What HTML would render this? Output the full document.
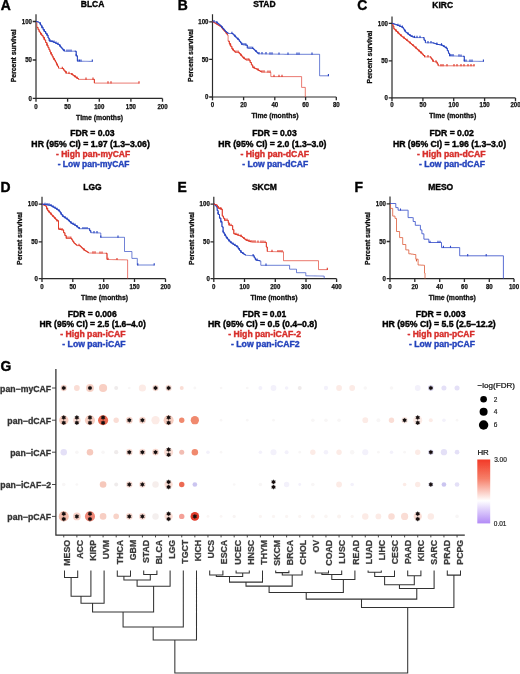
<!DOCTYPE html>
<html lang="en"><head><meta charset="utf-8"><title>Figure</title>
<style>
html,body{margin:0;padding:0;background:#fff}
body{width:520px;height:674px;overflow:hidden}
svg{display:block}
text{font-family:"Liberation Sans",sans-serif}
.pl{font-size:13.9px;font-weight:bold;fill:#000;stroke:#000;stroke-width:.4px}
.ti{font-size:8.5px;font-weight:bold;fill:#000;stroke:#000;stroke-width:.35px}
.tk{font-size:6.6px;font-weight:bold;fill:#111;stroke:#111;stroke-width:.25px}
.al{font-size:6.85px;font-weight:bold;fill:#111;stroke:#111;stroke-width:.3px}
.st{font-size:8.5px;font-weight:bold;stroke-width:.38px}
.rl{font-size:8.72px;font-weight:bold;fill:#333;stroke:#333;stroke-width:.3px}
.cl{font-size:9.3px;font-weight:bold;fill:#3a3a3a;stroke:#3a3a3a;stroke-width:.26px}
.lg{font-size:7.9px;fill:#111;stroke:#111;stroke-width:.22px}
.ls{font-size:6.5px;fill:#1a1a1a;stroke:#1a1a1a;stroke-width:.18px}
</style></head><body>
<svg width="520" height="674" viewBox="0 0 520 674">
<rect width="520" height="674" fill="#fff"/>
<defs><filter id="soft" x="0" y="0" width="520" height="674" filterUnits="userSpaceOnUse"><feGaussianBlur stdDeviation="0.38"/></filter></defs>
<g filter="url(#soft)">
<text x="0.8" y="10.4" class="pl">A</text>
<text x="177.8" y="9.9" class="pl">B</text>
<text x="357.2" y="10.4" class="pl">C</text>
<text x="0.6" y="192.4" class="pl">D</text>
<text x="177.5" y="192.4" class="pl">E</text>
<text x="354.4" y="192.4" class="pl">F</text>
<text x="0.6" y="370.7" class="pl">G</text>
<text x="92.6" y="7.3" text-anchor="middle" class="ti">BLCA</text>
<text x="264.4" y="7.3" text-anchor="middle" class="ti">STAD</text>
<text x="442.7" y="7.7" text-anchor="middle" class="ti">KIRC</text>
<text x="92.4" y="190.4" text-anchor="middle" class="ti">LGG</text>
<text x="264.4" y="190.4" text-anchor="middle" class="ti">SKCM</text>
<text x="440.7" y="190.4" text-anchor="middle" class="ti">MESO</text>
<g id="A">
<path d="M36,14.3V98.4H162.5" fill="none" stroke="#2b2b2b" stroke-width="1.2"/>
<path d="M32.7,21.5H36M32.7,60H36M32.7,98.4H36M36,98.4V101.7M67.6,98.4V101.7M99.3,98.4V101.7M130.9,98.4V101.7M162.5,98.4V101.7" fill="none" stroke="#2b2b2b" stroke-width="1.3"/>
<text x="32.0" y="23.9" text-anchor="end" class="tk" textLength="10.18" lengthAdjust="spacingAndGlyphs">100</text>
<text x="32.0" y="62.4" text-anchor="end" class="tk" textLength="6.78" lengthAdjust="spacingAndGlyphs">50</text>
<text x="32.0" y="100.8" text-anchor="end" class="tk" textLength="3.39" lengthAdjust="spacingAndGlyphs">0</text>
<text x="36" y="108.5" text-anchor="middle" class="tk" textLength="3.39" lengthAdjust="spacingAndGlyphs">0</text>
<text x="67.6" y="108.5" text-anchor="middle" class="tk" textLength="6.78" lengthAdjust="spacingAndGlyphs">50</text>
<text x="99.3" y="108.5" text-anchor="middle" class="tk" textLength="10.18" lengthAdjust="spacingAndGlyphs">100</text>
<text x="130.9" y="108.5" text-anchor="middle" class="tk" textLength="10.18" lengthAdjust="spacingAndGlyphs">150</text>
<text x="162.5" y="108.5" text-anchor="middle" class="tk" textLength="10.18" lengthAdjust="spacingAndGlyphs">200</text>
<text transform="translate(15.9,55.8) rotate(-90)" text-anchor="middle" class="al">Percent survival</text>
<text x="99.6" y="119.8" text-anchor="middle" class="al">Time (months)</text>
<path d="M36.00,21.50H36.90V27.40H38.05V29.70H39.20V32.00H40.50V33.80H41.80V35.60H43.10V37.40H44.37V39.97H45.63V42.53H46.90V45.10H47.93V47.40H48.97V49.70H50.00V52.00H51.03V54.07H52.07V56.13H53.10V58.20H54.25V60.10H55.40V62.00H56.43V64.07H57.47V66.13H58.50V68.20H59.77V68.33H61.03V68.47H62.30V68.60H63.60V70.13H64.90V71.67H66.20V73.20H67.35V73.35H68.50V73.50H69.65V73.65H70.80V73.80H72.07V74.73H73.33V75.67H74.60V76.60H75.90V77.53H77.20V78.47H78.50V79.40H93.40H94.40V83.10H139.40" fill="none" stroke="#DE3525" stroke-width="0.65"/>
<path d="M36.90,27.40H38.05V29.70H39.20V32.00M39.20,32.00H40.50V33.80H41.80V35.60H43.10V37.40M43.10,37.40H44.37V39.97H45.63V42.53H46.90V45.10M46.90,45.10H47.93V47.40H48.97V49.70H50.00V52.00M50.00,52.00H51.03V54.07H52.07V56.13H53.10V58.20M53.10,58.20H54.25V60.10H55.40V62.00M55.40,62.00H56.43V64.07H57.47V66.13H58.50V68.20M62.30,68.60H63.60V70.13H64.90V71.67H66.20V73.20M70.80,73.80H72.07V74.73H73.33V75.67H74.60V76.60M74.60,76.60H75.90V77.53H77.20V78.47H78.50V79.40M93.40,79.40H94.40V83.10" fill="none" stroke="#DE3525" stroke-width="0.90"/>
<path d="M41.0,32.7v2.2M44.0,37.4v2.2M47.0,43.5v2.2M51.0,52.2v2.2M54.0,57.9v2.2M57.0,63.4v2.2M62.3,66.8v2.2M66.0,71.2v2.2M69.0,71.8v2.2M72.0,72.9v2.2M75.0,75.1v2.2M77.0,76.5v2.2M86.0,77.6v2.2M93.0,77.6v2.2M108.0,81.3v2.2M111.0,81.3v2.2M139.0,81.3v2.2" fill="none" stroke="#DE3525" stroke-width="1.1"/>
<path d="M36.00,21.50H37.30V21.90H38.60V22.30H39.20V22.80H40.50V25.10H41.80V27.40H43.10V29.70H44.37V31.50H45.63V33.30H46.90V35.10H48.05V38.00H49.20V40.90H50.50V41.27H51.80V41.63H53.10V42.00H54.18V42.52H55.26V43.04H56.34V43.56H57.42V44.08H58.50V44.60H59.65V46.00H60.80V47.40H61.95V48.80H63.10V50.20H64.50V51.20H74.60H76.20V55.80H77.40V61.20H78.55V61.22H79.69V61.23H80.84V61.25H81.98V61.26H83.13V61.28H84.28V61.29H85.42V61.31H86.57V61.32H87.72V61.34H88.86V61.35H90.01V61.37H91.15V61.38H92.30V61.40" fill="none" stroke="#2340C0" stroke-width="0.65"/>
<path d="M36.00,21.50H37.30V21.90H38.60V22.30M39.20,22.80H40.50V25.10H41.80V27.40H43.10V29.70M43.10,29.70H44.37V31.50H45.63V33.30H46.90V35.10M46.90,35.10H48.05V38.00H49.20V40.90M49.20,40.90H50.50V41.27H51.80V41.63H53.10V42.00M53.10,42.00H54.18V42.52H55.26V43.04H56.34V43.56H57.42V44.08H58.50V44.60M58.50,44.60H59.65V46.00H60.80V47.40H61.95V48.80H63.10V50.20M63.10,50.20H64.50V51.20M74.60,51.20H76.20V55.80M76.20,55.80H77.40V61.20" fill="none" stroke="#2340C0" stroke-width="0.90"/>
<path d="M40.0,22.4v2.2M42.0,26.0v2.2M44.0,29.2v2.2M45.5,31.3v2.2M47.0,33.6v2.2M50.0,39.3v2.2M52.0,39.9v2.2M54.0,40.6v2.2M56.0,41.6v2.2M58.0,42.6v2.2M60.0,44.6v2.2M64.0,49.0v2.2M67.0,49.4v2.2M69.0,49.4v2.2M71.0,49.4v2.2M76.2,54.0v2.2M78.0,59.4v2.2M79.5,59.4v2.2M81.0,59.4v2.2M92.3,59.6v2.2" fill="none" stroke="#2340C0" stroke-width="1.1"/>
</g>
<text x="92.4" y="136.3" text-anchor="middle" class="st" fill="#000" stroke="#000" textLength="44.4" lengthAdjust="spacingAndGlyphs">FDR = 0.03</text>
<text x="90.6" y="146.5" text-anchor="middle" class="st" fill="#000" stroke="#000" textLength="118.5" lengthAdjust="spacingAndGlyphs">HR (95% CI) = 1.97 (1.3–3.06)</text>
<text x="93.1" y="156.6" text-anchor="middle" class="st" fill="#D72E2A" stroke="#D72E2A" textLength="74.1" lengthAdjust="spacingAndGlyphs">- High pan-myCAF</text>
<text x="93.6" y="166.5" text-anchor="middle" class="st" fill="#2443BC" stroke="#2443BC" textLength="71.9" lengthAdjust="spacingAndGlyphs">- Low pan-myCAF</text>
<g id="B">
<path d="M212.5,14.3V97H336.3" fill="none" stroke="#2b2b2b" stroke-width="1.2"/>
<path d="M209.2,21.8H212.5M209.2,59.4H212.5M209.2,97H212.5M212.5,97V100.3M243.6,97V100.3M274.8,97V100.3M305.6,97V100.3M336.3,97V100.3" fill="none" stroke="#2b2b2b" stroke-width="1.3"/>
<text x="208.5" y="24.2" text-anchor="end" class="tk" textLength="10.18" lengthAdjust="spacingAndGlyphs">100</text>
<text x="208.5" y="61.8" text-anchor="end" class="tk" textLength="6.78" lengthAdjust="spacingAndGlyphs">50</text>
<text x="208.5" y="99.3" text-anchor="end" class="tk" textLength="3.39" lengthAdjust="spacingAndGlyphs">0</text>
<text x="212.5" y="107.3" text-anchor="middle" class="tk" textLength="3.39" lengthAdjust="spacingAndGlyphs">0</text>
<text x="243.6" y="107.3" text-anchor="middle" class="tk" textLength="6.78" lengthAdjust="spacingAndGlyphs">20</text>
<text x="274.8" y="107.3" text-anchor="middle" class="tk" textLength="6.78" lengthAdjust="spacingAndGlyphs">40</text>
<text x="305.6" y="107.3" text-anchor="middle" class="tk" textLength="6.78" lengthAdjust="spacingAndGlyphs">60</text>
<text x="336.3" y="107.3" text-anchor="middle" class="tk" textLength="6.78" lengthAdjust="spacingAndGlyphs">80</text>
<text transform="translate(193.4,55.5) rotate(-90)" text-anchor="middle" class="al">Percent survival</text>
<text x="275" y="118.2" text-anchor="middle" class="al">Time (months)</text>
<path d="M212.50,21.80H213.63V22.49H214.76V23.17H215.89V23.86H217.01V24.54H218.14V25.23H219.27V25.91H220.40V26.60H221.55V27.95H222.70V29.30H223.85V30.65H225.00V32.00H226.15V33.55H227.30V35.10H228.10V41.20H229.37V43.77H230.63V46.33H231.90V48.90H232.93V50.03H233.97V51.17H235.00V52.30H238.10H239.25V53.57H240.40V54.85H241.55V56.12H242.70V57.40H243.73V58.27H244.77V59.13H245.80V60.00H248.80H250.10V62.47H251.40V64.93H252.70V67.40H253.97V68.00H255.23V68.60H256.50V69.20H257.68V69.90H258.85V70.60H260.02V71.30H261.20V72.00H262.35V72.04H263.50V72.08H264.65V72.11H265.80V72.15H266.95V72.19H268.10V72.22H269.25V72.26H270.40V72.30H270.80V76.60H301.60V87.40H305.30V97.00" fill="none" stroke="#DE3525" stroke-width="0.65"/>
<path d="M212.50,21.80H213.63V22.49H214.76V23.17H215.89V23.86H217.01V24.54H218.14V25.23H219.27V25.91H220.40V26.60M220.40,26.60H221.55V27.95H222.70V29.30H223.85V30.65H225.00V32.00M225.00,32.00H226.15V33.55H227.30V35.10M228.10,41.20H229.37V43.77H230.63V46.33H231.90V48.90M231.90,48.90H232.93V50.03H233.97V51.17H235.00V52.30M238.10,52.30H239.25V53.57H240.40V54.85H241.55V56.12H242.70V57.40M242.70,57.40H243.73V58.27H244.77V59.13H245.80V60.00M248.80,60.00H250.10V62.47H251.40V64.93H252.70V67.40M252.70,67.40H253.97V68.00H255.23V68.60H256.50V69.20M256.50,69.20H257.68V69.90H258.85V70.60H260.02V71.30H261.20V72.00" fill="none" stroke="#DE3525" stroke-width="0.90"/>
<path d="M230.0,43.2v2.2M233.0,48.3v2.2M236.0,50.5v2.2M238.0,50.5v2.2M241.0,53.7v2.2M244.0,56.7v2.2M247.0,58.2v2.2M248.8,58.2v2.2M254.0,66.2v2.2M258.0,68.3v2.2M262.0,70.2v2.2M264.0,70.3v2.2M268.0,70.4v2.2M270.0,70.5v2.2M274.0,74.8v2.2M279.0,74.8v2.2M282.0,74.8v2.2" fill="none" stroke="#DE3525" stroke-width="1.1"/>
<path d="M212.50,21.80H213.60V21.87H214.70V21.93H215.80V22.00H216.95V22.95H218.10V23.90H219.25V24.85H220.40V25.80H221.55V27.15H222.70V28.50H223.85V29.85H225.00V31.20H226.03V31.97H227.07V32.73H228.10V33.50H231.90H233.14V34.74H234.38V35.98H235.62V37.22H236.86V38.46H238.10V39.70H239.37V41.33H240.63V42.97H241.90V44.60H243.20V44.77H244.50V44.93H245.80V45.10H247.30V48.20H248.38V48.26H249.46V48.32H250.54V48.38H251.62V48.44H252.70V48.50H253.78V49.56H254.86V50.62H255.94V51.68H257.02V52.74H258.10V53.80H259.27V53.82H260.44V53.84H261.61V53.87H262.78V53.89H263.95V53.91H265.12V53.93H266.29V53.95H267.46V53.97H268.63V54.00H269.80V54.02H270.97V54.04H272.13V54.06H273.30V54.08H274.47V54.10H275.64V54.13H276.81V54.15H277.98V54.17H279.15V54.19H280.32V54.21H281.49V54.23H282.66V54.26H283.83V54.28H285.00V54.30H319.60V75.80H328.40" fill="none" stroke="#2340C0" stroke-width="0.65"/>
<path d="M215.80,22.00H216.95V22.95H218.10V23.90H219.25V24.85H220.40V25.80M220.40,25.80H221.55V27.15H222.70V28.50H223.85V29.85H225.00V31.20M225.00,31.20H226.03V31.97H227.07V32.73H228.10V33.50M231.90,33.50H233.14V34.74H234.38V35.98H235.62V37.22H236.86V38.46H238.10V39.70M238.10,39.70H239.37V41.33H240.63V42.97H241.90V44.60M245.80,45.10H247.30V48.20M252.70,48.50H253.78V49.56H254.86V50.62H255.94V51.68H257.02V52.74H258.10V53.80" fill="none" stroke="#2340C0" stroke-width="0.90"/>
<path d="M214.0,20.1v2.2M217.0,21.2v2.2M222.0,25.9v2.2M231.9,31.7v2.2M235.0,34.8v2.2M238.0,37.8v2.2M241.9,42.8v2.2M244.0,43.1v2.2M245.8,43.3v2.2M249.0,46.5v2.2M251.0,46.6v2.2M252.7,46.7v2.2M256.0,49.9v2.2M259.0,52.0v2.2M262.0,52.1v2.2M266.0,52.1v2.2M270.0,52.2v2.2M272.0,52.3v2.2M279.0,52.4v2.2M288.0,52.5v2.2M297.0,52.5v2.2M299.0,52.5v2.2M312.0,52.5v2.2M328.4,74.0v2.2" fill="none" stroke="#2340C0" stroke-width="1.1"/>
</g>
<text x="274.5" y="136.3" text-anchor="middle" class="st" fill="#000" stroke="#000" textLength="44.4" lengthAdjust="spacingAndGlyphs">FDR = 0.03</text>
<text x="272.4" y="146.5" text-anchor="middle" class="st" fill="#000" stroke="#000" textLength="108.2" lengthAdjust="spacingAndGlyphs">HR (95% CI) = 2.0 (1.3–3.0)</text>
<text x="274.7" y="156.6" text-anchor="middle" class="st" fill="#D72E2A" stroke="#D72E2A" textLength="68.6" lengthAdjust="spacingAndGlyphs">- High pan-dCAF</text>
<text x="275.2" y="166.5" text-anchor="middle" class="st" fill="#2443BC" stroke="#2443BC" textLength="65.9" lengthAdjust="spacingAndGlyphs">- Low pan-dCAF</text>
<g id="C">
<path d="M392,16.6V97.9H515.5" fill="none" stroke="#2b2b2b" stroke-width="1.2"/>
<path d="M388.7,23.4H392M388.7,60.8H392M388.7,97.9H392M392,97.9V101.2M422.9,97.9V101.2M453.7,97.9V101.2M484.6,97.9V101.2M515.5,97.9V101.2" fill="none" stroke="#2b2b2b" stroke-width="1.3"/>
<text x="388.0" y="25.8" text-anchor="end" class="tk" textLength="10.18" lengthAdjust="spacingAndGlyphs">100</text>
<text x="388.0" y="63.1" text-anchor="end" class="tk" textLength="6.78" lengthAdjust="spacingAndGlyphs">50</text>
<text x="388.0" y="100.2" text-anchor="end" class="tk" textLength="3.39" lengthAdjust="spacingAndGlyphs">0</text>
<text x="392" y="107.3" text-anchor="middle" class="tk" textLength="3.39" lengthAdjust="spacingAndGlyphs">0</text>
<text x="422.9" y="107.3" text-anchor="middle" class="tk" textLength="6.78" lengthAdjust="spacingAndGlyphs">50</text>
<text x="453.7" y="107.3" text-anchor="middle" class="tk" textLength="10.18" lengthAdjust="spacingAndGlyphs">100</text>
<text x="484.6" y="107.3" text-anchor="middle" class="tk" textLength="10.18" lengthAdjust="spacingAndGlyphs">150</text>
<text x="515.5" y="107.3" text-anchor="middle" class="tk" textLength="10.18" lengthAdjust="spacingAndGlyphs">200</text>
<text transform="translate(371.9,57) rotate(-90)" text-anchor="middle" class="al">Percent survival</text>
<text x="452.7" y="118.2" text-anchor="middle" class="al">Time (months)</text>
<path d="M392.00,23.40H392.90V26.15H393.80V28.90H395.04V30.14H396.28V31.38H397.52V32.62H398.76V33.86H400.00V35.10H401.10V35.97H402.20V36.84H403.30V37.71H404.40V38.59H405.50V39.46H406.60V40.33H407.70V41.20H408.78V42.12H409.86V43.04H410.94V43.96H412.02V44.88H413.10V45.80H414.20V46.80H415.30V47.80H416.40V48.80H417.50V49.80H418.60V50.80H419.70V51.80H420.80V52.80H422.07V54.17H423.33V55.53H424.60V56.90H430.00H431.03V58.43H432.07V59.97H433.10V61.50H434.13V61.67H435.17V61.83H436.20V62.00H437.20V63.90H438.20V65.80H474.60" fill="none" stroke="#DE3525" stroke-width="0.65"/>
<path d="M392.00,23.40H392.90V26.15H393.80V28.90M393.80,28.90H395.04V30.14H396.28V31.38H397.52V32.62H398.76V33.86H400.00V35.10M400.00,35.10H401.10V35.97H402.20V36.84H403.30V37.71H404.40V38.59H405.50V39.46H406.60V40.33H407.70V41.20M407.70,41.20H408.78V42.12H409.86V43.04H410.94V43.96H412.02V44.88H413.10V45.80M413.10,45.80H414.20V46.80H415.30V47.80H416.40V48.80H417.50V49.80H418.60V50.80H419.70V51.80H420.80V52.80M420.80,52.80H422.07V54.17H423.33V55.53H424.60V56.90M430.00,56.90H431.03V58.43H432.07V59.97H433.10V61.50M436.20,62.00H437.20V63.90H438.20V65.80" fill="none" stroke="#DE3525" stroke-width="0.90"/>
<path d="M396.0,29.3v2.2M398.0,31.3v2.2M401.0,34.1v2.2M404.0,36.5v2.2M407.0,38.8v2.2M410.0,41.4v2.2M413.0,43.9v2.2M416.0,46.6v2.2M419.0,49.4v2.2M421.0,51.2v2.2M424.6,55.1v2.2M428.0,55.1v2.2M433.0,59.6v2.2M436.0,60.2v2.2M441.0,64.0v2.2M443.0,64.0v2.2M447.0,64.0v2.2M454.0,64.0v2.2M457.0,64.0v2.2M461.0,64.0v2.2M464.0,64.0v2.2M468.0,64.0v2.2M471.0,64.0v2.2M474.0,64.0v2.2" fill="none" stroke="#DE3525" stroke-width="1.1"/>
<path d="M392.00,23.40H393.23V23.82H394.45V24.25H395.67V24.68H396.90V25.10H397.98V25.56H399.06V26.02H400.14V26.48H401.22V26.94H402.30V27.40H403.33V28.93H404.37V30.47H405.40V32.00H406.48V32.86H407.56V33.72H408.64V34.58H409.72V35.44H410.80V36.30H412.07V36.73H413.33V37.17H414.60V37.60H422.80H424.10V40.20H425.40V42.80H432.30H433.45V43.17H434.60V43.55H435.75V43.92H436.90V44.30H438.05V44.50H439.20V44.70H440.35V44.90H441.50V45.10H442.68V45.88H443.85V46.65H445.02V47.43H446.20V48.20H447.33V50.73H448.47V53.27H449.60V55.80H450.73V55.84H451.85V55.88H452.98V55.92H454.10V55.97H455.23V56.01H456.35V56.05H457.48V56.09H458.60V56.13H459.73V56.17H460.85V56.22H461.98V56.26H463.10V56.30H464.30V61.20H465.42V61.21H466.55V61.22H467.67V61.24H468.79V61.25H469.92V61.26H471.04V61.27H472.16V61.28H473.29V61.29H474.41V61.31H475.54V61.32H476.66V61.33H477.78V61.34H478.91V61.35H480.03V61.36H481.15V61.38H482.28V61.39H483.40V61.40" fill="none" stroke="#2340C0" stroke-width="0.65"/>
<path d="M392.00,23.40H393.23V23.82H394.45V24.25H395.67V24.68H396.90V25.10M396.90,25.10H397.98V25.56H399.06V26.02H400.14V26.48H401.22V26.94H402.30V27.40M402.30,27.40H403.33V28.93H404.37V30.47H405.40V32.00M405.40,32.00H406.48V32.86H407.56V33.72H408.64V34.58H409.72V35.44H410.80V36.30M410.80,36.30H412.07V36.73H413.33V37.17H414.60V37.60M422.80,37.60H424.10V40.20H425.40V42.80M432.30,42.80H433.45V43.17H434.60V43.55H435.75V43.92H436.90V44.30M436.90,44.30H438.05V44.50H439.20V44.70H440.35V44.90H441.50V45.10M441.50,45.10H442.68V45.88H443.85V46.65H445.02V47.43H446.20V48.20M446.20,48.20H447.33V50.73H448.47V53.27H449.60V55.80M463.10,56.30H464.30V61.20" fill="none" stroke="#2340C0" stroke-width="0.90"/>
<path d="M398.0,23.8v2.2M400.0,24.6v2.2M402.3,25.6v2.2M405.0,29.6v2.2M408.0,32.3v2.2M410.0,33.9v2.2M412.0,34.9v2.2M414.6,35.8v2.2M417.0,35.8v2.2M420.0,35.8v2.2M428.0,41.0v2.2M431.0,41.0v2.2M436.9,42.5v2.2M441.5,43.3v2.2M444.0,44.9v2.2M446.2,46.4v2.2M449.6,54.0v2.2M451.0,54.1v2.2M453.0,54.1v2.2M459.0,54.3v2.2M461.0,54.4v2.2M464.3,59.4v2.2M466.0,59.4v2.2M470.0,59.5v2.2M472.0,59.5v2.2M483.4,59.6v2.2" fill="none" stroke="#2340C0" stroke-width="1.1"/>
</g>
<text x="451.7" y="136.3" text-anchor="middle" class="st" fill="#000" stroke="#000" textLength="44.4" lengthAdjust="spacingAndGlyphs">FDR = 0.02</text>
<text x="449.5" y="146.5" text-anchor="middle" class="st" fill="#000" stroke="#000" textLength="113.2" lengthAdjust="spacingAndGlyphs">HR (95% CI) = 1.96 (1.3–3.0)</text>
<text x="451.3" y="156.6" text-anchor="middle" class="st" fill="#D72E2A" stroke="#D72E2A" textLength="68.6" lengthAdjust="spacingAndGlyphs">- High pan-dCAF</text>
<text x="452" y="166.5" text-anchor="middle" class="st" fill="#2443BC" stroke="#2443BC" textLength="65.9" lengthAdjust="spacingAndGlyphs">- Low pan-dCAF</text>
<g id="D">
<path d="M42,196.8V278.7H165.5" fill="none" stroke="#2b2b2b" stroke-width="1.2"/>
<path d="M38.7,204.1H42M38.7,241.8H42M38.7,278.7H42M42,278.7V282.0M72.8,278.7V282.0M103.7,278.7V282.0M134.5,278.7V282.0M165.5,278.7V282.0" fill="none" stroke="#2b2b2b" stroke-width="1.3"/>
<text x="38.0" y="206.4" text-anchor="end" class="tk" textLength="10.18" lengthAdjust="spacingAndGlyphs">100</text>
<text x="38.0" y="244.2" text-anchor="end" class="tk" textLength="6.78" lengthAdjust="spacingAndGlyphs">50</text>
<text x="38.0" y="281.1" text-anchor="end" class="tk" textLength="3.39" lengthAdjust="spacingAndGlyphs">0</text>
<text x="42" y="288.5" text-anchor="middle" class="tk" textLength="3.39" lengthAdjust="spacingAndGlyphs">0</text>
<text x="72.8" y="288.5" text-anchor="middle" class="tk" textLength="6.78" lengthAdjust="spacingAndGlyphs">50</text>
<text x="103.7" y="288.5" text-anchor="middle" class="tk" textLength="10.18" lengthAdjust="spacingAndGlyphs">100</text>
<text x="134.5" y="288.5" text-anchor="middle" class="tk" textLength="10.18" lengthAdjust="spacingAndGlyphs">150</text>
<text x="165.5" y="288.5" text-anchor="middle" class="tk" textLength="10.18" lengthAdjust="spacingAndGlyphs">200</text>
<text transform="translate(22.4,238.5) rotate(-90)" text-anchor="middle" class="al">Percent survival</text>
<text x="104.6" y="300.1" text-anchor="middle" class="al">Time (months)</text>
<path d="M42.00,204.10H43.13V204.77H44.27V205.43H45.40V206.10H46.55V208.40H47.70V210.70H48.78V211.92H49.86V213.14H50.94V214.36H52.02V215.58H53.10V216.80H54.37V218.10H55.63V219.40H56.90V220.70H58.50V229.20H59.77V229.43H61.03V229.67H62.30V229.90H63.60V232.73H64.90V235.57H66.20V238.40H70.80H71.80V239.93H72.80V241.47H73.80V243.00H74.83V243.87H75.87V244.73H76.90V245.60H79.20H80.35V246.68H81.50V247.75H82.65V248.82H83.80V249.90H84.97V250.68H86.15V251.45H87.33V252.22H88.50V253.00H89.65V253.02H90.81V253.04H91.96V253.06H93.11V253.08H94.27V253.10H95.42V253.12H96.57V253.14H97.73V253.16H98.88V253.18H100.03V253.20H101.19V253.22H102.34V253.24H103.49V253.26H104.65V253.28H105.80V253.30H107.00V259.50H108.14V259.52H109.29V259.54H110.43V259.57H111.58V259.59H112.72V259.61H113.87V259.63H115.01V259.66H116.16V259.68H117.30V259.70H118.44V259.72H119.59V259.74H120.73V259.77H121.88V259.79H123.02V259.81H124.17V259.83H125.31V259.86H126.46V259.88H127.60V259.90V278.70" fill="none" stroke="#DE3525" stroke-width="0.65"/>
<path d="M42.00,204.10H43.13V204.77H44.27V205.43H45.40V206.10M45.40,206.10H46.55V208.40H47.70V210.70M47.70,210.70H48.78V211.92H49.86V213.14H50.94V214.36H52.02V215.58H53.10V216.80M53.10,216.80H54.37V218.10H55.63V219.40H56.90V220.70M56.90,220.70H58.50V229.20M58.50,229.20H59.77V229.43H61.03V229.67H62.30V229.90M62.30,229.90H63.60V232.73H64.90V235.57H66.20V238.40M70.80,238.40H71.80V239.93H72.80V241.47H73.80V243.00M73.80,243.00H74.83V243.87H75.87V244.73H76.90V245.60M79.20,245.60H80.35V246.68H81.50V247.75H82.65V248.82H83.80V249.90M83.80,249.90H84.97V250.68H86.15V251.45H87.33V252.22H88.50V253.00M105.80,253.30H107.00V259.50" fill="none" stroke="#DE3525" stroke-width="0.90"/>
<path d="M47.0,207.5v2.2M49.0,210.4v2.2M51.0,212.6v2.2M53.0,214.9v2.2M55.0,216.9v2.2M57.0,219.4v2.2M60.0,227.7v2.2M62.0,228.0v2.2M67.0,236.6v2.2M69.0,236.6v2.2M70.8,236.6v2.2M79.0,243.8v2.2M84.0,248.2v2.2M93.0,251.3v2.2M95.0,251.3v2.2M100.0,251.4v2.2M102.0,251.4v2.2M108.0,257.7v2.2M117.0,257.9v2.2" fill="none" stroke="#DE3525" stroke-width="1.1"/>
<path d="M42.00,204.10H43.14V204.27H44.29V204.44H45.43V204.61H46.57V204.79H47.71V204.96H48.86V205.13H50.00V205.30H51.08V205.92H52.16V206.54H53.24V207.16H54.32V207.78H55.40V208.40H56.67V209.33H57.93V210.27H59.20V211.20H60.23V212.83H61.27V214.47H62.30V216.10H63.45V216.88H64.60V217.65H65.75V218.42H66.90V219.20H68.20V220.47H69.50V221.73H70.80V223.00H71.95V223.65H73.10V224.30H74.25V224.95H75.40V225.60H76.67V226.63H77.93V227.67H79.20V228.70H88.50H89.65V230.70H90.80V232.70H92.00V232.74H93.20V232.77H94.40V232.81H95.60V232.85H96.80V232.89H98.00V232.93H99.20V232.96H100.40V233.00H100.80V237.30H124.50V251.50H131.90V258.40H136.80H137.30V265.00H154.20" fill="none" stroke="#2340C0" stroke-width="0.65"/>
<path d="M42.00,204.10H43.14V204.27H44.29V204.44H45.43V204.61H46.57V204.79H47.71V204.96H48.86V205.13H50.00V205.30M50.00,205.30H51.08V205.92H52.16V206.54H53.24V207.16H54.32V207.78H55.40V208.40M55.40,208.40H56.67V209.33H57.93V210.27H59.20V211.20M59.20,211.20H60.23V212.83H61.27V214.47H62.30V216.10M62.30,216.10H63.45V216.88H64.60V217.65H65.75V218.42H66.90V219.20M66.90,219.20H68.20V220.47H69.50V221.73H70.80V223.00M70.80,223.00H71.95V223.65H73.10V224.30H74.25V224.95H75.40V225.60M75.40,225.60H76.67V226.63H77.93V227.67H79.20V228.70M88.50,228.70H89.65V230.70H90.80V232.70" fill="none" stroke="#2340C0" stroke-width="0.90"/>
<path d="M45.0,202.8v2.2M47.0,203.0v2.2M49.0,203.3v2.2M51.0,204.1v2.2M53.0,205.2v2.2M55.0,206.4v2.2M57.0,207.8v2.2M59.0,209.3v2.2M61.0,212.2v2.2M63.0,214.8v2.2M65.0,216.1v2.2M67.0,217.5v2.2M69.0,219.4v2.2M71.0,221.3v2.2M73.0,222.4v2.2M75.0,223.6v2.2M77.0,225.1v2.2M79.2,226.9v2.2M83.0,226.9v2.2M85.0,226.9v2.2M87.0,226.9v2.2M94.0,231.0v2.2M97.0,231.1v2.2M100.8,235.5v2.2M118.0,235.5v2.2M137.8,263.2v2.2M154.2,263.2v2.2" fill="none" stroke="#2340C0" stroke-width="1.1"/>
</g>
<text x="92.2" y="317.3" text-anchor="middle" class="st" fill="#000" stroke="#000" textLength="49" lengthAdjust="spacingAndGlyphs">FDR = 0.006</text>
<text x="92.6" y="327.1" text-anchor="middle" class="st" fill="#000" stroke="#000" textLength="106.4" lengthAdjust="spacingAndGlyphs">HR (95% CI) = 2.5 (1.6–4.0)</text>
<text x="92.9" y="337.2" text-anchor="middle" class="st" fill="#D72E2A" stroke="#D72E2A" textLength="65.4" lengthAdjust="spacingAndGlyphs">- High pan-iCAF</text>
<text x="94" y="347.1" text-anchor="middle" class="st" fill="#2443BC" stroke="#2443BC" textLength="63.3" lengthAdjust="spacingAndGlyphs">- Low pan-iCAF</text>
<g id="E">
<path d="M213.8,196.8V278.7H336.6" fill="none" stroke="#2b2b2b" stroke-width="1.2"/>
<path d="M210.5,204.1H213.8M210.5,241.8H213.8M210.5,278.7H213.8M213.8,278.7V282.0M244.5,278.7V282.0M275.3,278.7V282.0M306,278.7V282.0M336.6,278.7V282.0" fill="none" stroke="#2b2b2b" stroke-width="1.3"/>
<text x="209.8" y="206.4" text-anchor="end" class="tk" textLength="10.18" lengthAdjust="spacingAndGlyphs">100</text>
<text x="209.8" y="244.2" text-anchor="end" class="tk" textLength="6.78" lengthAdjust="spacingAndGlyphs">50</text>
<text x="209.8" y="281.1" text-anchor="end" class="tk" textLength="3.39" lengthAdjust="spacingAndGlyphs">0</text>
<text x="213.8" y="288.5" text-anchor="middle" class="tk" textLength="3.39" lengthAdjust="spacingAndGlyphs">0</text>
<text x="244.5" y="288.5" text-anchor="middle" class="tk" textLength="10.18" lengthAdjust="spacingAndGlyphs">100</text>
<text x="275.3" y="288.5" text-anchor="middle" class="tk" textLength="10.18" lengthAdjust="spacingAndGlyphs">200</text>
<text x="306" y="288.5" text-anchor="middle" class="tk" textLength="10.18" lengthAdjust="spacingAndGlyphs">300</text>
<text x="336.6" y="288.5" text-anchor="middle" class="tk" textLength="10.18" lengthAdjust="spacingAndGlyphs">400</text>
<text transform="translate(193.7,238.5) rotate(-90)" text-anchor="middle" class="al">Percent survival</text>
<text x="274" y="300.1" text-anchor="middle" class="al">Time (months)</text>
<path d="M213.80,204.10H215.00V205.45H216.20V206.80H217.20V210.65H218.20V214.50H219.50V218.00H220.80V221.50H221.95V226.85H223.10V232.20H224.13V234.00H225.17V235.80H226.20V237.60H227.47V239.13H228.73V240.67H230.00V242.20H231.15V242.97H232.30V243.73H233.45V244.50H234.60V245.27H235.75V246.03H236.90V246.80H238.20V248.60H239.50V250.40H240.80V252.20H241.95V252.97H243.10V253.75H244.25V254.53H245.40V255.30H246.50V255.37H247.60V255.44H248.70V255.51H249.80V255.59H250.90V255.66H252.00V255.73H253.10V255.80H254.25V257.85H255.40V259.90H256.55V260.17H257.70V260.45H258.85V260.73H260.00V261.00H260.80V265.30H289.30H289.60V269.20H296.50V272.70H305.30H305.80V275.80H306.95V275.82H308.10V275.84H309.25V275.86H310.40V275.88H311.55V275.89H312.70V275.91H313.85V275.93H315.00V275.95H316.15V275.97H317.30V275.99H318.45V276.01H319.60V276.03H320.75V276.04H321.90V276.06H323.05V276.08H324.20V276.10V278.70" fill="none" stroke="#2340C0" stroke-width="0.65"/>
<path d="M213.80,204.10H215.00V205.45H216.20V206.80M216.20,206.80H217.20V210.65H218.20V214.50M218.20,214.50H219.50V218.00H220.80V221.50M220.80,221.50H221.95V226.85H223.10V232.20M223.10,232.20H224.13V234.00H225.17V235.80H226.20V237.60M226.20,237.60H227.47V239.13H228.73V240.67H230.00V242.20M230.00,242.20H231.15V242.97H232.30V243.73H233.45V244.50H234.60V245.27H235.75V246.03H236.90V246.80M236.90,246.80H238.20V248.60H239.50V250.40H240.80V252.20M240.80,252.20H241.95V252.97H243.10V253.75H244.25V254.53H245.40V255.30M253.10,255.80H254.25V257.85H255.40V259.90M255.40,259.90H256.55V260.17H257.70V260.45H258.85V260.73H260.00V261.00" fill="none" stroke="#2340C0" stroke-width="0.90"/>
<path d="M218.0,211.9v2.2M219.5,216.2v2.2M221.0,220.6v2.2M223.1,230.4v2.2M225.0,233.7v2.2M227.0,236.8v2.2M229.0,239.2v2.2M231.0,241.1v2.2M233.0,242.4v2.2M235.0,243.7v2.2M237.0,245.1v2.2M239.0,247.9v2.2M241.0,250.5v2.2M243.0,251.9v2.2M253.1,254.0v2.2M257.0,258.5v2.2M266.0,263.5v2.2" fill="none" stroke="#2340C0" stroke-width="1.1"/>
<path d="M213.80,204.10H215.00V204.55H216.20V205.00H217.35V206.70H218.50V208.40H219.85V208.80H221.20V209.20H222.30V216.10H223.45V218.25H224.60V220.40H227.40H228.30V222.85H229.20V225.30H230.35V225.45H231.50V225.60H232.65V229.70H233.80V233.80H234.97V234.18H236.13V234.57H237.30V234.95H238.47V235.33H239.63V235.72H240.80V236.10H241.95V237.05H243.10V238.00H244.25V238.95H245.40V239.90H246.48V240.30H247.56V240.70H248.64V241.10H249.72V241.50H250.80V241.90H251.92V241.95H253.05V241.99H254.17V242.04H255.29V242.08H256.42V242.13H257.54V242.18H258.66V242.22H259.78V242.27H260.91V242.32H262.03V242.36H263.15V242.41H264.28V242.45H265.40V242.50H266.35V247.00H267.30V251.50H268.48V251.52H269.67V251.55H270.85V251.57H272.04V251.59H273.22V251.62H274.41V251.64H275.59V251.66H276.78V251.68H277.96V251.71H279.15V251.73H280.33V251.75H281.52V251.78H282.70V251.80H283.50V260.70H318.50V269.60H327.30" fill="none" stroke="#DE3525" stroke-width="0.65"/>
<path d="M213.80,204.10H215.00V204.55H216.20V205.00M216.20,205.00H217.35V206.70H218.50V208.40M218.50,208.40H219.85V208.80H221.20V209.20M221.20,209.20H222.30V216.10M222.30,216.10H223.45V218.25H224.60V220.40M227.40,220.40H228.30V222.85H229.20V225.30M231.50,225.60H232.65V229.70H233.80V233.80M233.80,233.80H234.97V234.18H236.13V234.57H237.30V234.95H238.47V235.33H239.63V235.72H240.80V236.10M240.80,236.10H241.95V237.05H243.10V238.00H244.25V238.95H245.40V239.90M245.40,239.90H246.48V240.30H247.56V240.70H248.64V241.10H249.72V241.50H250.80V241.90M265.40,242.50H266.35V247.00H267.30V251.50" fill="none" stroke="#DE3525" stroke-width="0.90"/>
<path d="M218.0,205.9v2.2M220.0,207.0v2.2M221.2,207.4v2.2M225.0,218.6v2.2M227.0,218.6v2.2M229.0,223.0v2.2M231.0,223.7v2.2M236.0,232.7v2.2M238.0,233.4v2.2M241.0,234.5v2.2M244.0,236.9v2.2M247.0,238.7v2.2M249.0,239.4v2.2M251.0,240.1v2.2M253.0,240.2v2.2M255.0,240.3v2.2M258.0,240.4v2.2M261.0,240.5v2.2M263.0,240.6v2.2M265.0,240.7v2.2M272.0,249.8v2.2M278.0,249.9v2.2M280.0,249.9v2.2M282.0,250.0v2.2M327.3,267.8v2.2" fill="none" stroke="#DE3525" stroke-width="1.1"/>
</g>
<text x="264.4" y="317.3" text-anchor="middle" class="st" fill="#000" stroke="#000" textLength="43.7" lengthAdjust="spacingAndGlyphs">FDR = 0.01</text>
<text x="262.6" y="327.1" text-anchor="middle" class="st" fill="#000" stroke="#000" textLength="109.1" lengthAdjust="spacingAndGlyphs">HR (95% CI) = 0.5 (0.4–0.8)</text>
<text x="264.6" y="337.2" text-anchor="middle" class="st" fill="#D72E2A" stroke="#D72E2A" textLength="72.7" lengthAdjust="spacingAndGlyphs">- High pan-iCAF-2</text>
<text x="265.3" y="347.1" text-anchor="middle" class="st" fill="#2443BC" stroke="#2443BC" textLength="68.6" lengthAdjust="spacingAndGlyphs">- Low pan-iCAF2</text>
<g id="F">
<path d="M390,196.4V278.7H514" fill="none" stroke="#2b2b2b" stroke-width="1.2"/>
<path d="M386.7,203.8H390M386.7,241.5H390M386.7,278.7H390M390,278.7V282.0M414.8,278.7V282.0M439.7,278.7V282.0M464.4,278.7V282.0M489.3,278.7V282.0M514,278.7V282.0" fill="none" stroke="#2b2b2b" stroke-width="1.3"/>
<text x="386.0" y="206.2" text-anchor="end" class="tk" textLength="10.18" lengthAdjust="spacingAndGlyphs">100</text>
<text x="386.0" y="243.8" text-anchor="end" class="tk" textLength="6.78" lengthAdjust="spacingAndGlyphs">50</text>
<text x="386.0" y="281.1" text-anchor="end" class="tk" textLength="3.39" lengthAdjust="spacingAndGlyphs">0</text>
<text x="390" y="288.5" text-anchor="middle" class="tk" textLength="3.39" lengthAdjust="spacingAndGlyphs">0</text>
<text x="414.8" y="288.5" text-anchor="middle" class="tk" textLength="6.78" lengthAdjust="spacingAndGlyphs">20</text>
<text x="439.7" y="288.5" text-anchor="middle" class="tk" textLength="6.78" lengthAdjust="spacingAndGlyphs">40</text>
<text x="464.4" y="288.5" text-anchor="middle" class="tk" textLength="6.78" lengthAdjust="spacingAndGlyphs">60</text>
<text x="489.3" y="288.5" text-anchor="middle" class="tk" textLength="6.78" lengthAdjust="spacingAndGlyphs">80</text>
<text x="514" y="288.5" text-anchor="middle" class="tk" textLength="10.18" lengthAdjust="spacingAndGlyphs">100</text>
<text transform="translate(369.9,238.5) rotate(-90)" text-anchor="middle" class="al">Percent survival</text>
<text x="452.3" y="300.1" text-anchor="middle" class="al">Time (months)</text>
<path d="M390.00,203.50H390.40V208.40H392.70V216.10H395.00V218.40H396.50V231.50H399.60V237.60H402.70V244.50H405.80V249.90H408.80V253.80H411.15V254.15H413.50V254.50H415.80V259.20H418.10V265.00H420.80V265.15H423.50V265.30H424.50V273.00H425.00V278.70" fill="none" stroke="#DC5A38" stroke-width="0.8"/>
<path d="M416.5,259.2v2.2" fill="none" stroke="#DC5A38" stroke-width="1.1"/>
<path d="M390.00,203.50H395.00H395.80V207.60H397.80H398.10V210.20H407.30H408.10V217.60H412.70H413.20V221.50H415.00H415.30V225.30H419.60H420.40V229.90H421.90V233.80H423.90V239.20H428.10H428.80V242.50H440.80H441.50V247.60H459.70V255.80H503.40V278.70" fill="none" stroke="#3049C8" stroke-width="0.8"/>
<path d="M400.5,208.4v2.2M430.0,240.7v2.2M438.0,240.7v2.2M440.0,240.7v2.2M443.4,245.8v2.2M450.5,245.8v2.2M467.7,254.0v2.2M486.2,254.0v2.2" fill="none" stroke="#3049C8" stroke-width="1.1"/>
</g>
<text x="440.7" y="317.3" text-anchor="middle" class="st" fill="#000" stroke="#000" textLength="49.8" lengthAdjust="spacingAndGlyphs">FDR = 0.003</text>
<text x="439" y="327.1" text-anchor="middle" class="st" fill="#000" stroke="#000" textLength="113.6" lengthAdjust="spacingAndGlyphs">HR (95% CI) = 5.5 (2.5–12.2)</text>
<text x="441.1" y="337.2" text-anchor="middle" class="st" fill="#D72E2A" stroke="#D72E2A" textLength="67.3" lengthAdjust="spacingAndGlyphs">- High pan-pCAF</text>
<text x="442" y="347.1" text-anchor="middle" class="st" fill="#2443BC" stroke="#2443BC" textLength="65.8" lengthAdjust="spacingAndGlyphs">- Low pan-pCAF</text>
<g id="G">
<path d="M55.9,369V535.1H464.8" fill="none" stroke="#2e2e2e" stroke-width="1.25"/>
<path d="M52,388H55.9M52,420.2H55.9M52,452.2H55.9M52,484.5H55.9M52,516.4H55.9M63.75,535.1V537.4M76.86,535.1V537.4M89.97,535.1V537.4M103.08,535.1V537.4M116.19,535.1V537.4M129.30,535.1V537.4M142.41,535.1V537.4M155.52,535.1V537.4M168.63,535.1V537.4M181.74,535.1V537.4M194.85,535.1V537.4M207.96,535.1V537.4M221.07,535.1V537.4M234.18,535.1V537.4M247.29,535.1V537.4M260.40,535.1V537.4M273.51,535.1V537.4M286.62,535.1V537.4M299.73,535.1V537.4M312.84,535.1V537.4M325.95,535.1V537.4M339.06,535.1V537.4M352.17,535.1V537.4M365.28,535.1V537.4M378.39,535.1V537.4M391.50,535.1V537.4M404.61,535.1V537.4M417.72,535.1V537.4M430.83,535.1V537.4M443.94,535.1V537.4M457.05,535.1V537.4" fill="none" stroke="#333" stroke-width="0.9"/>
<text x="51.2" y="391.6" text-anchor="end" class="rl">pan−myCAF</text>
<text x="51.2" y="423.8" text-anchor="end" class="rl">pan−dCAF</text>
<text x="51.2" y="455.8" text-anchor="end" class="rl">pan−iCAF</text>
<text x="51.2" y="488.1" text-anchor="end" class="rl">pan−iCAF−2</text>
<text x="51.2" y="520.0" text-anchor="end" class="rl">pan−pCAF</text>
<text transform="translate(70.15,539.8) rotate(-90)" text-anchor="end" class="cl" textLength="25.91" lengthAdjust="spacingAndGlyphs">MESO</text>
<text transform="translate(83.26,539.8) rotate(-90)" text-anchor="end" class="cl" textLength="19.07" lengthAdjust="spacingAndGlyphs">ACC</text>
<text transform="translate(96.37,539.8) rotate(-90)" text-anchor="end" class="cl" textLength="21.03" lengthAdjust="spacingAndGlyphs">KIRP</text>
<text transform="translate(109.48,539.8) rotate(-90)" text-anchor="end" class="cl" textLength="19.56" lengthAdjust="spacingAndGlyphs">UVM</text>
<text transform="translate(122.59,539.8) rotate(-90)" text-anchor="end" class="cl" textLength="24.44" lengthAdjust="spacingAndGlyphs">THCA</text>
<text transform="translate(135.70,539.8) rotate(-90)" text-anchor="end" class="cl" textLength="20.53" lengthAdjust="spacingAndGlyphs">GBM</text>
<text transform="translate(148.81,539.8) rotate(-90)" text-anchor="end" class="cl" textLength="23.30" lengthAdjust="spacingAndGlyphs">STAD</text>
<text transform="translate(161.92,539.8) rotate(-90)" text-anchor="end" class="cl" textLength="24.44" lengthAdjust="spacingAndGlyphs">BLCA</text>
<text transform="translate(175.03,539.8) rotate(-90)" text-anchor="end" class="cl" textLength="19.06" lengthAdjust="spacingAndGlyphs">LGG</text>
<text transform="translate(188.14,539.8) rotate(-90)" text-anchor="end" class="cl" textLength="23.95" lengthAdjust="spacingAndGlyphs">TGCT</text>
<text transform="translate(201.25,539.8) rotate(-90)" text-anchor="end" class="cl" textLength="21.51" lengthAdjust="spacingAndGlyphs">KICH</text>
<text transform="translate(214.36,539.8) rotate(-90)" text-anchor="end" class="cl" textLength="18.58" lengthAdjust="spacingAndGlyphs">UCS</text>
<text transform="translate(227.47,539.8) rotate(-90)" text-anchor="end" class="cl" textLength="24.45" lengthAdjust="spacingAndGlyphs">ESCA</text>
<text transform="translate(240.58,539.8) rotate(-90)" text-anchor="end" class="cl" textLength="24.94" lengthAdjust="spacingAndGlyphs">UCEC</text>
<text transform="translate(253.69,539.8) rotate(-90)" text-anchor="end" class="cl" textLength="24.94" lengthAdjust="spacingAndGlyphs">HNSC</text>
<text transform="translate(266.80,539.8) rotate(-90)" text-anchor="end" class="cl" textLength="24.93" lengthAdjust="spacingAndGlyphs">THYM</text>
<text transform="translate(279.91,539.8) rotate(-90)" text-anchor="end" class="cl" textLength="25.91" lengthAdjust="spacingAndGlyphs">SKCM</text>
<text transform="translate(293.02,539.8) rotate(-90)" text-anchor="end" class="cl" textLength="25.42" lengthAdjust="spacingAndGlyphs">BRCA</text>
<text transform="translate(306.13,539.8) rotate(-90)" text-anchor="end" class="cl" textLength="24.93" lengthAdjust="spacingAndGlyphs">CHOL</text>
<text transform="translate(319.24,539.8) rotate(-90)" text-anchor="end" class="cl" textLength="12.71" lengthAdjust="spacingAndGlyphs">OV</text>
<text transform="translate(332.35,539.8) rotate(-90)" text-anchor="end" class="cl" textLength="25.91" lengthAdjust="spacingAndGlyphs">COAD</text>
<text transform="translate(345.46,539.8) rotate(-90)" text-anchor="end" class="cl" textLength="23.96" lengthAdjust="spacingAndGlyphs">LUSC</text>
<text transform="translate(358.57,539.8) rotate(-90)" text-anchor="end" class="cl" textLength="24.94" lengthAdjust="spacingAndGlyphs">READ</text>
<text transform="translate(371.68,539.8) rotate(-90)" text-anchor="end" class="cl" textLength="24.44" lengthAdjust="spacingAndGlyphs">LUAD</text>
<text transform="translate(384.79,539.8) rotate(-90)" text-anchor="end" class="cl" textLength="20.53" lengthAdjust="spacingAndGlyphs">LIHC</text>
<text transform="translate(397.90,539.8) rotate(-90)" text-anchor="end" class="cl" textLength="24.45" lengthAdjust="spacingAndGlyphs">CESC</text>
<text transform="translate(411.01,539.8) rotate(-90)" text-anchor="end" class="cl" textLength="24.28" lengthAdjust="spacingAndGlyphs">PAAD</text>
<text transform="translate(424.12,539.8) rotate(-90)" text-anchor="end" class="cl" textLength="21.51" lengthAdjust="spacingAndGlyphs">KIRC</text>
<text transform="translate(437.23,539.8) rotate(-90)" text-anchor="end" class="cl" textLength="24.94" lengthAdjust="spacingAndGlyphs">SARC</text>
<text transform="translate(450.34,539.8) rotate(-90)" text-anchor="end" class="cl" textLength="24.94" lengthAdjust="spacingAndGlyphs">PRAD</text>
<text transform="translate(463.45,539.8) rotate(-90)" text-anchor="end" class="cl" textLength="24.94" lengthAdjust="spacingAndGlyphs">PCPG</text>
<circle cx="63.75" cy="388" r="3.15" fill="#F9D9D0"/>
<circle cx="76.86" cy="388" r="2.88" fill="#FADDD5"/>
<circle cx="89.97" cy="388" r="3.96" fill="#F8D3C8"/>
<circle cx="103.08" cy="388" r="4.05" fill="#F8CFC3"/>
<circle cx="116.19" cy="388" r="1.98" fill="#EFEBEB"/>
<circle cx="129.30" cy="388" r="1.35" fill="#F8F6F6"/>
<circle cx="142.41" cy="388" r="3.60" fill="#FCEBE6"/>
<circle cx="155.52" cy="388" r="3.15" fill="#FAE0D9"/>
<circle cx="168.63" cy="388" r="3.15" fill="#FAE0D9"/>
<circle cx="181.74" cy="388" r="1.98" fill="#FADDD5"/>
<circle cx="194.85" cy="388" r="1.44" fill="#F8F6F6"/>
<circle cx="221.07" cy="388" r="1.35" fill="#F8F6F6"/>
<circle cx="247.29" cy="388" r="1.35" fill="#F8F6F6"/>
<circle cx="260.40" cy="388" r="1.98" fill="#F3F1FB"/>
<circle cx="273.51" cy="388" r="2.88" fill="#F3F1FB"/>
<circle cx="286.62" cy="388" r="1.80" fill="#F3F1FB"/>
<circle cx="299.73" cy="388" r="1.98" fill="#EFEBEB"/>
<circle cx="325.95" cy="388" r="2.16" fill="#F3F1FB"/>
<circle cx="339.06" cy="388" r="2.88" fill="#FCEBE6"/>
<circle cx="352.17" cy="388" r="2.88" fill="#FCEBE6"/>
<circle cx="365.28" cy="388" r="1.80" fill="#F8F6F6"/>
<circle cx="391.50" cy="388" r="1.80" fill="#F8F6F6"/>
<circle cx="417.72" cy="388" r="2.88" fill="#F3F1FB"/>
<circle cx="430.83" cy="388" r="2.88" fill="#E4E0F7"/>
<circle cx="443.94" cy="388" r="2.52" fill="#E4E0F7"/>
<circle cx="457.05" cy="388" r="2.52" fill="#E4E0F7"/>
<circle cx="63.75" cy="420.2" r="4.68" fill="#F7CDC0"/>
<circle cx="76.86" cy="420.2" r="3.78" fill="#FADDD5"/>
<circle cx="89.97" cy="420.2" r="5.04" fill="#F7CDC0"/>
<circle cx="103.08" cy="420.2" r="5.04" fill="#EC6A52"/>
<circle cx="116.19" cy="420.2" r="2.70" fill="#FADDD5"/>
<circle cx="129.30" cy="420.2" r="3.51" fill="#F9D9D0"/>
<circle cx="142.41" cy="420.2" r="3.51" fill="#F9D9D0"/>
<circle cx="155.52" cy="420.2" r="4.14" fill="#FCEBE6"/>
<circle cx="168.63" cy="420.2" r="5.04" fill="#F7CDC0"/>
<circle cx="181.74" cy="420.2" r="2.70" fill="#F0896E"/>
<circle cx="194.85" cy="420.2" r="4.14" fill="#F0896E"/>
<circle cx="221.07" cy="420.2" r="1.35" fill="#F8F6F6"/>
<circle cx="247.29" cy="420.2" r="1.35" fill="#F8F6F6"/>
<circle cx="273.51" cy="420.2" r="1.35" fill="#F8F6F6"/>
<circle cx="312.84" cy="420.2" r="1.80" fill="#F8F6F6"/>
<circle cx="325.95" cy="420.2" r="1.80" fill="#F8F6F6"/>
<circle cx="339.06" cy="420.2" r="1.80" fill="#F8F6F6"/>
<circle cx="365.28" cy="420.2" r="2.88" fill="#FCEBE6"/>
<circle cx="378.39" cy="420.2" r="1.98" fill="#F8F6F6"/>
<circle cx="391.50" cy="420.2" r="2.70" fill="#FADDD5"/>
<circle cx="404.61" cy="420.2" r="3.24" fill="#FCEBE6"/>
<circle cx="417.72" cy="420.2" r="4.50" fill="#FCEBE6"/>
<circle cx="430.83" cy="420.2" r="1.98" fill="#FCEBE6"/>
<circle cx="443.94" cy="420.2" r="1.80" fill="#F3F1FB"/>
<circle cx="457.05" cy="420.2" r="1.35" fill="#F8F6F6"/>
<circle cx="63.75" cy="452.2" r="3.24" fill="#E4E0F7"/>
<circle cx="76.86" cy="452.2" r="1.80" fill="#F8F6F6"/>
<circle cx="89.97" cy="452.2" r="3.24" fill="#F6C9BD"/>
<circle cx="103.08" cy="452.2" r="1.80" fill="#F8F6F6"/>
<circle cx="116.19" cy="452.2" r="2.16" fill="#EFEBEB"/>
<circle cx="129.30" cy="452.2" r="3.33" fill="#FADFD8"/>
<circle cx="142.41" cy="452.2" r="3.33" fill="#FADFD8"/>
<circle cx="155.52" cy="452.2" r="3.33" fill="#F9D9D0"/>
<circle cx="168.63" cy="452.2" r="4.50" fill="#FADDD5"/>
<circle cx="181.74" cy="452.2" r="2.52" fill="#F2BDB3"/>
<circle cx="194.85" cy="452.2" r="3.24" fill="#F0896E"/>
<circle cx="207.96" cy="452.2" r="1.80" fill="#F3F1FB"/>
<circle cx="221.07" cy="452.2" r="1.35" fill="#F8F6F6"/>
<circle cx="260.40" cy="452.2" r="1.80" fill="#F3F1FB"/>
<circle cx="273.51" cy="452.2" r="3.06" fill="#F3F1FB"/>
<circle cx="286.62" cy="452.2" r="1.98" fill="#F3F1FB"/>
<circle cx="299.73" cy="452.2" r="1.35" fill="#F8F6F6"/>
<circle cx="312.84" cy="452.2" r="2.70" fill="#FCEBE6"/>
<circle cx="325.95" cy="452.2" r="2.25" fill="#F3F1FB"/>
<circle cx="339.06" cy="452.2" r="2.70" fill="#FCEBE6"/>
<circle cx="352.17" cy="452.2" r="2.25" fill="#F8F6F6"/>
<circle cx="365.28" cy="452.2" r="3.06" fill="#F3F1FB"/>
<circle cx="378.39" cy="452.2" r="1.35" fill="#F8F6F6"/>
<circle cx="391.50" cy="452.2" r="1.80" fill="#F3F1FB"/>
<circle cx="404.61" cy="452.2" r="1.35" fill="#F8F6F6"/>
<circle cx="417.72" cy="452.2" r="2.70" fill="#FCEBE6"/>
<circle cx="430.83" cy="452.2" r="2.70" fill="#E4E0F7"/>
<circle cx="443.94" cy="452.2" r="3.15" fill="#E4E0F7"/>
<circle cx="457.05" cy="452.2" r="2.34" fill="#E4E0F7"/>
<circle cx="63.75" cy="484.5" r="1.80" fill="#F8F6F6"/>
<circle cx="76.86" cy="484.5" r="1.35" fill="#F8F6F6"/>
<circle cx="103.08" cy="484.5" r="3.33" fill="#F6C8BB"/>
<circle cx="116.19" cy="484.5" r="1.98" fill="#EFEBEB"/>
<circle cx="129.30" cy="484.5" r="3.24" fill="#FADFD8"/>
<circle cx="142.41" cy="484.5" r="3.24" fill="#FADFD8"/>
<circle cx="155.52" cy="484.5" r="3.24" fill="#F6EEEC"/>
<circle cx="168.63" cy="484.5" r="4.14" fill="#FADDD5"/>
<circle cx="181.74" cy="484.5" r="2.70" fill="#EC6A52"/>
<circle cx="194.85" cy="484.5" r="2.34" fill="#CBC5F0"/>
<circle cx="234.18" cy="484.5" r="1.35" fill="#F8F6F6"/>
<circle cx="260.40" cy="484.5" r="1.80" fill="#F8F6F6"/>
<circle cx="273.51" cy="484.5" r="1.35" fill="#F8F6F6"/>
<circle cx="286.62" cy="484.5" r="2.70" fill="#F3F1FB"/>
<circle cx="299.73" cy="484.5" r="1.44" fill="#F3F1FB"/>
<circle cx="312.84" cy="484.5" r="1.80" fill="#F8F6F6"/>
<circle cx="339.06" cy="484.5" r="2.88" fill="#FCEBE6"/>
<circle cx="352.17" cy="484.5" r="1.80" fill="#F3F1FB"/>
<circle cx="404.61" cy="484.5" r="1.80" fill="#FCEBE6"/>
<circle cx="417.72" cy="484.5" r="2.70" fill="#FCEBE6"/>
<circle cx="430.83" cy="484.5" r="2.34" fill="#E4E0F7"/>
<circle cx="443.94" cy="484.5" r="2.34" fill="#CBC5F0"/>
<circle cx="457.05" cy="484.5" r="2.34" fill="#E4E0F7"/>
<circle cx="63.75" cy="516.4" r="5.04" fill="#F4BCAC"/>
<circle cx="76.86" cy="516.4" r="3.87" fill="#F8D2C8"/>
<circle cx="89.97" cy="516.4" r="5.04" fill="#F08878"/>
<circle cx="103.08" cy="516.4" r="3.33" fill="#F7CEC3"/>
<circle cx="116.19" cy="516.4" r="2.79" fill="#F8D3C8"/>
<circle cx="129.30" cy="516.4" r="3.33" fill="#F9DAD2"/>
<circle cx="142.41" cy="516.4" r="3.33" fill="#F9DAD2"/>
<circle cx="155.52" cy="516.4" r="3.24" fill="#F4EFEE"/>
<circle cx="168.63" cy="516.4" r="4.14" fill="#FADDD5"/>
<circle cx="181.74" cy="516.4" r="2.70" fill="#F4A097"/>
<circle cx="194.85" cy="516.4" r="4.32" fill="#E03C2A"/>
<circle cx="207.96" cy="516.4" r="1.44" fill="#FAF6F5"/>
<circle cx="221.07" cy="516.4" r="1.44" fill="#FAF6F5"/>
<circle cx="234.18" cy="516.4" r="1.62" fill="#F8F4F3"/>
<circle cx="260.40" cy="516.4" r="1.62" fill="#FAF5F3"/>
<circle cx="273.51" cy="516.4" r="1.62" fill="#FAF5F3"/>
<circle cx="286.62" cy="516.4" r="1.62" fill="#FAF5F3"/>
<circle cx="299.73" cy="516.4" r="1.62" fill="#FAF5F3"/>
<circle cx="312.84" cy="516.4" r="1.98" fill="#FAF3F0"/>
<circle cx="325.95" cy="516.4" r="1.80" fill="#FAF5F3"/>
<circle cx="339.06" cy="516.4" r="1.98" fill="#FAF3F0"/>
<circle cx="352.17" cy="516.4" r="1.62" fill="#FAF5F3"/>
<circle cx="365.28" cy="516.4" r="3.24" fill="#FCEBE6"/>
<circle cx="378.39" cy="516.4" r="2.88" fill="#FCEBE6"/>
<circle cx="391.50" cy="516.4" r="3.24" fill="#FADDD5"/>
<circle cx="404.61" cy="516.4" r="3.60" fill="#FADDD5"/>
<circle cx="417.72" cy="516.4" r="4.14" fill="#FADDD5"/>
<circle cx="430.83" cy="516.4" r="3.24" fill="#FCEBE6"/>
<circle cx="457.05" cy="516.4" r="1.80" fill="#F8F6F6"/>
<path d="M63.75,385.75L64.47,386.74L65.70,386.88L65.20,388.00L65.70,389.12L64.47,389.26L63.75,390.25L63.02,389.26L61.80,389.12L62.30,388.00L61.80,386.88L63.02,386.74ZM89.97,385.75L90.69,386.74L91.92,386.88L91.42,388.00L91.92,389.12L90.69,389.26L89.97,390.25L89.25,389.26L88.02,389.12L88.52,388.00L88.02,386.88L89.25,386.74ZM155.52,385.75L156.24,386.74L157.47,386.88L156.97,388.00L157.47,389.12L156.24,389.26L155.52,390.25L154.79,389.26L153.57,389.12L154.07,388.00L153.57,386.88L154.79,386.74ZM168.63,385.75L169.35,386.74L170.58,386.88L170.08,388.00L170.58,389.12L169.35,389.26L168.63,390.25L167.91,389.26L166.68,389.12L167.18,388.00L166.68,386.88L167.91,386.74ZM430.83,385.75L431.56,386.74L432.78,386.88L432.28,388.00L432.78,389.12L431.56,389.26L430.83,390.25L430.10,389.26L428.88,389.12L429.38,388.00L428.88,386.88L430.10,386.74ZM63.75,415.35L64.47,416.34L65.70,416.47L65.20,417.60L65.70,418.72L64.47,418.86L63.75,419.85L63.02,418.86L61.80,418.72L62.30,417.60L61.80,416.47L63.02,416.34ZM63.75,420.55L64.47,421.54L65.70,421.68L65.20,422.80L65.70,423.93L64.47,424.06L63.75,425.05L63.02,424.06L61.80,423.93L62.30,422.80L61.80,421.68L63.02,421.54ZM76.86,415.35L77.58,416.34L78.81,416.47L78.31,417.60L78.81,418.72L77.58,418.86L76.86,419.85L76.14,418.86L74.91,418.72L75.41,417.60L74.91,416.47L76.14,416.34ZM76.86,420.55L77.58,421.54L78.81,421.68L78.31,422.80L78.81,423.93L77.58,424.06L76.86,425.05L76.14,424.06L74.91,423.93L75.41,422.80L74.91,421.68L76.14,421.54ZM89.97,415.35L90.69,416.34L91.92,416.47L91.42,417.60L91.92,418.72L90.69,418.86L89.97,419.85L89.25,418.86L88.02,418.72L88.52,417.60L88.02,416.47L89.25,416.34ZM89.97,420.55L90.69,421.54L91.92,421.68L91.42,422.80L91.92,423.93L90.69,424.06L89.97,425.05L89.25,424.06L88.02,423.93L88.52,422.80L88.02,421.68L89.25,421.54ZM103.08,415.35L103.80,416.34L105.03,416.47L104.53,417.60L105.03,418.72L103.80,418.86L103.08,419.85L102.36,418.86L101.13,418.72L101.63,417.60L101.13,416.47L102.36,416.34ZM103.08,420.55L103.80,421.54L105.03,421.68L104.53,422.80L105.03,423.93L103.80,424.06L103.08,425.05L102.36,424.06L101.13,423.93L101.63,422.80L101.13,421.68L102.36,421.54ZM129.30,417.95L130.03,418.94L131.25,419.07L130.75,420.20L131.25,421.32L130.03,421.46L129.30,422.45L128.58,421.46L127.35,421.32L127.85,420.20L127.35,419.07L128.58,418.94ZM142.41,417.95L143.13,418.94L144.36,419.07L143.86,420.20L144.36,421.32L143.13,421.46L142.41,422.45L141.69,421.46L140.46,421.32L140.96,420.20L140.46,419.07L141.69,418.94ZM168.63,415.35L169.35,416.34L170.58,416.47L170.08,417.60L170.58,418.72L169.35,418.86L168.63,419.85L167.91,418.86L166.68,418.72L167.18,417.60L166.68,416.47L167.91,416.34ZM168.63,420.55L169.35,421.54L170.58,421.68L170.08,422.80L170.58,423.93L169.35,424.06L168.63,425.05L167.91,424.06L166.68,423.93L167.18,422.80L166.68,421.68L167.91,421.54ZM404.61,417.95L405.34,418.94L406.56,419.07L406.06,420.20L406.56,421.32L405.34,421.46L404.61,422.45L403.88,421.46L402.66,421.32L403.16,420.20L402.66,419.07L403.88,418.94ZM417.72,415.35L418.44,416.34L419.67,416.47L419.17,417.60L419.67,418.72L418.44,418.86L417.72,419.85L416.99,418.86L415.77,418.72L416.27,417.60L415.77,416.47L416.99,416.34ZM417.72,420.55L418.44,421.54L419.67,421.68L419.17,422.80L419.67,423.93L418.44,424.06L417.72,425.05L416.99,424.06L415.77,423.93L416.27,422.80L415.77,421.68L416.99,421.54ZM129.30,449.95L130.03,450.94L131.25,451.07L130.75,452.20L131.25,453.32L130.03,453.46L129.30,454.45L128.58,453.46L127.35,453.32L127.85,452.20L127.35,451.07L128.58,450.94ZM142.41,449.95L143.13,450.94L144.36,451.07L143.86,452.20L144.36,453.32L143.13,453.46L142.41,454.45L141.69,453.46L140.46,453.32L140.96,452.20L140.46,451.07L141.69,450.94ZM155.52,449.95L156.24,450.94L157.47,451.07L156.97,452.20L157.47,453.32L156.24,453.46L155.52,454.45L154.79,453.46L153.57,453.32L154.07,452.20L153.57,451.07L154.79,450.94ZM168.63,447.35L169.35,448.34L170.58,448.47L170.08,449.60L170.58,450.72L169.35,450.86L168.63,451.85L167.91,450.86L166.68,450.72L167.18,449.60L166.68,448.47L167.91,448.34ZM168.63,452.55L169.35,453.54L170.58,453.68L170.08,454.80L170.58,455.93L169.35,456.06L168.63,457.05L167.91,456.06L166.68,455.93L167.18,454.80L166.68,453.68L167.91,453.54ZM430.83,449.95L431.56,450.94L432.78,451.07L432.28,452.20L432.78,453.32L431.56,453.46L430.83,454.45L430.10,453.46L428.88,453.32L429.38,452.20L428.88,451.07L430.10,450.94ZM129.30,482.25L130.03,483.24L131.25,483.38L130.75,484.50L131.25,485.62L130.03,485.76L129.30,486.75L128.58,485.76L127.35,485.62L127.85,484.50L127.35,483.38L128.58,483.24ZM142.41,482.25L143.13,483.24L144.36,483.38L143.86,484.50L144.36,485.62L143.13,485.76L142.41,486.75L141.69,485.76L140.46,485.62L140.96,484.50L140.46,483.38L141.69,483.24ZM168.63,479.65L169.35,480.64L170.58,480.77L170.08,481.90L170.58,483.02L169.35,483.16L168.63,484.15L167.91,483.16L166.68,483.02L167.18,481.90L166.68,480.77L167.91,480.64ZM168.63,484.85L169.35,485.84L170.58,485.98L170.08,487.10L170.58,488.23L169.35,488.36L168.63,489.35L167.91,488.36L166.68,488.23L167.18,487.10L166.68,485.98L167.91,485.84ZM273.51,479.65L274.24,480.64L275.46,480.77L274.96,481.90L275.46,483.02L274.24,483.16L273.51,484.15L272.78,483.16L271.56,483.02L272.06,481.90L271.56,480.77L272.78,480.64ZM273.51,484.85L274.24,485.84L275.46,485.98L274.96,487.10L275.46,488.23L274.24,488.36L273.51,489.35L272.78,488.36L271.56,488.23L272.06,487.10L271.56,485.98L272.78,485.84ZM430.83,482.25L431.56,483.24L432.78,483.38L432.28,484.50L432.78,485.62L431.56,485.76L430.83,486.75L430.10,485.76L428.88,485.62L429.38,484.50L428.88,483.38L430.10,483.24ZM63.75,511.55L64.47,512.54L65.70,512.67L65.20,513.80L65.70,514.92L64.47,515.06L63.75,516.05L63.02,515.06L61.80,514.92L62.30,513.80L61.80,512.67L63.02,512.54ZM63.75,516.75L64.47,517.74L65.70,517.88L65.20,519.00L65.70,520.12L64.47,520.26L63.75,521.25L63.02,520.26L61.80,520.12L62.30,519.00L61.80,517.88L63.02,517.74ZM76.86,514.15L77.58,515.14L78.81,515.27L78.31,516.40L78.81,517.52L77.58,517.66L76.86,518.65L76.14,517.66L74.91,517.52L75.41,516.40L74.91,515.27L76.14,515.14ZM89.97,511.55L90.69,512.54L91.92,512.67L91.42,513.80L91.92,514.92L90.69,515.06L89.97,516.05L89.25,515.06L88.02,514.92L88.52,513.80L88.02,512.67L89.25,512.54ZM89.97,516.75L90.69,517.74L91.92,517.88L91.42,519.00L91.92,520.12L90.69,520.26L89.97,521.25L89.25,520.26L88.02,520.12L88.52,519.00L88.02,517.88L89.25,517.74ZM129.30,514.15L130.03,515.14L131.25,515.27L130.75,516.40L131.25,517.52L130.03,517.66L129.30,518.65L128.58,517.66L127.35,517.52L127.85,516.40L127.35,515.27L128.58,515.14ZM142.41,514.15L143.13,515.14L144.36,515.27L143.86,516.40L144.36,517.52L143.13,517.66L142.41,518.65L141.69,517.66L140.46,517.52L140.96,516.40L140.46,515.27L141.69,515.14ZM168.63,511.55L169.35,512.54L170.58,512.67L170.08,513.80L170.58,514.92L169.35,515.06L168.63,516.05L167.91,515.06L166.68,514.92L167.18,513.80L166.68,512.67L167.91,512.54ZM168.63,516.75L169.35,517.74L170.58,517.88L170.08,519.00L170.58,520.12L169.35,520.26L168.63,521.25L167.91,520.26L166.68,520.12L167.18,519.00L166.68,517.88L167.91,517.74ZM194.85,514.15L195.57,515.14L196.80,515.27L196.30,516.40L196.80,517.52L195.57,517.66L194.85,518.65L194.12,517.66L192.90,517.52L193.40,516.40L192.90,515.27L194.12,515.14ZM417.72,511.55L418.44,512.54L419.67,512.67L419.17,513.80L419.67,514.92L418.44,515.06L417.72,516.05L416.99,515.06L415.77,514.92L416.27,513.80L415.77,512.67L416.99,512.54ZM417.72,516.75L418.44,517.74L419.67,517.88L419.17,519.00L419.67,520.12L418.44,520.26L417.72,521.25L416.99,520.26L415.77,520.12L416.27,519.00L415.77,517.88L416.99,517.74Z" fill="#141010" stroke="#141010" stroke-width="0.3" stroke-linejoin="round"/>
<text x="477.6" y="388.1" class="lg" textLength="37.4" lengthAdjust="spacingAndGlyphs">−log(FDR)</text>
<circle cx="483.6" cy="399.3" r="3.3" fill="#000"/>
<text x="493.7" y="401.7" class="ls">2</text>
<circle cx="483.6" cy="411.7" r="4.0" fill="#000"/>
<text x="493.7" y="414.1" class="ls">4</text>
<circle cx="483.6" cy="425.0" r="4.7" fill="#000"/>
<text x="493.7" y="427.4" class="ls">6</text>
<text x="477.4" y="454.6" class="lg">HR</text>
<defs><linearGradient id="hr" x1="0" y1="0" x2="0" y2="1"><stop offset="0" stop-color="#F23A26"/><stop offset="0.3" stop-color="#F67F69"/><stop offset="0.645" stop-color="#FFFFFF"/><stop offset="0.8" stop-color="#DCCBFB"/><stop offset="1" stop-color="#B28AF6"/></linearGradient></defs>
<rect x="477.3" y="459.5" width="12.9" height="63.9" fill="url(#hr)"/>
<text x="494.2" y="462.1" class="ls">3.00</text>
<text x="493.8" y="526.1" class="ls">0.01</text>
<path d="M64.50,570.40V577.50H77.70V570.40M71.10,577.50V596.30H90.90V570.40M81.00,596.30V603.30H104.10V570.40M117.30,570.40V576.30H130.50V570.40M143.70,570.40V574.50H156.90V570.40M123.90,576.30V580.00H150.30V574.50M137.10,580.00V586.30H170.10V570.40M92.55,603.30V612.00H153.60V586.30M123.07,612.00V626.90H183.30V570.40M153.19,626.90V639.90H196.50V570.40M209.70,570.40V575.00H222.90V570.40M236.10,570.40V573.00H249.30V570.40M216.30,575.00V576.40H242.70V573.00M229.50,576.40V582.10H262.50V570.40M275.70,570.40V572.60H288.90V570.40M282.30,572.60V575.00H302.10V570.40M246.00,582.10V586.10H292.20V575.00M315.30,570.40V573.00H328.50V570.40M321.90,573.00V574.40H341.70V570.40M331.80,574.40V579.40H354.90V570.40M269.10,586.10V592.50H343.35V579.40M368.10,570.40V572.20H381.30V570.40M374.70,572.20V576.40H394.50V570.40M407.70,570.40V575.80H420.90V570.40M384.60,576.40V584.80H414.30V575.80M399.45,584.80V588.40H434.10V570.40M306.23,592.50V599.10H416.77V588.40M447.30,570.40V575.10H460.50V570.40M361.50,599.10V607.50H453.90V575.10M174.84,639.90V673.00H407.70V607.50" fill="none" stroke="#333" stroke-width="1.05"/>
</g>
</g></svg></body></html>
